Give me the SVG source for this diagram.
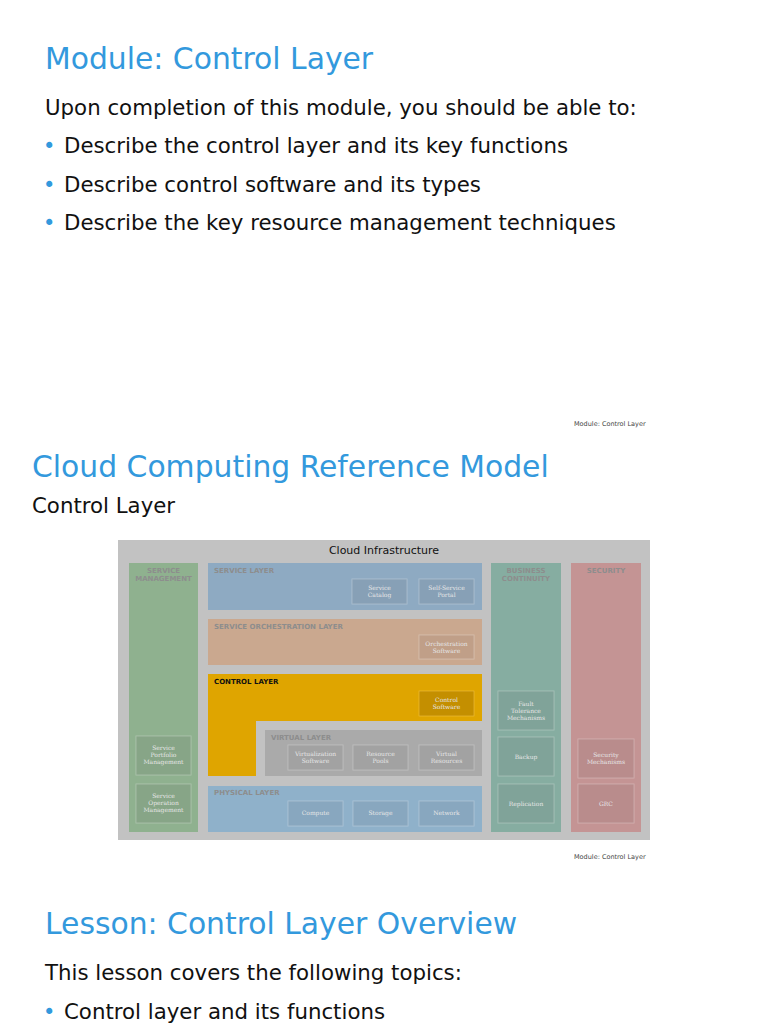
<svg xmlns="http://www.w3.org/2000/svg" width="768" height="1024" viewBox="0 0 768 1024">
<style>
text{font-family:"DejaVu Sans","Liberation Sans",sans-serif}
.h{fill:#3399dd;font-size:29.8px}
.b{fill:#111;font-size:21.3px}
.dot{fill:#3399dd;font-size:21px}
.foot{fill:#444;font-size:6.5px}
.lab{fill:#8d8d8d;font-size:7px;font-weight:bold}
.bx{stroke:#ffffff;stroke-opacity:0.25;stroke-width:1}
.bt{fill:#e6e6e6;font-size:6px;font-family:"DejaVu Serif",serif;text-anchor:middle}
</style>
<rect width="768" height="1024" fill="#ffffff"/>
<g id="slide1">
<text class="h" x="45" y="69">Module: Control Layer</text>
<text class="b" x="45" y="115">Upon completion of this module, you should be able to:</text>
<text class="dot" x="43" y="153">•</text><text class="b" x="64" y="153">Describe the control layer and its key functions</text>
<text class="dot" x="43" y="192">•</text><text class="b" x="64" y="192">Describe control software and its types</text>
<text class="dot" x="43" y="230">•</text><text class="b" x="64" y="230">Describe the key resource management techniques</text>
<text class="foot" x="574" y="426">Module: Control Layer</text>
</g>
<g id="slide2">
<text class="h" x="32" y="477">Cloud Computing Reference Model</text>
<text class="b" x="32" y="513">Control Layer</text>
<rect x="118" y="540" width="532" height="300" fill="#c2c2c2"/>
<text x="384" y="554" font-size="11" fill="#111" text-anchor="middle">Cloud  Infrastructure</text>
<g id="service-management"><rect x="129" y="563" width="69" height="269" fill="#8fb18f"/>
<text class="lab" x="163.5" y="573" text-anchor="middle">SERVICE</text><text class="lab" x="163.5" y="581" text-anchor="middle">MANAGEMENT</text>
<rect class="bx" x="136" y="736" width="55" height="39" fill="#87a587"/><text class="bt" x="163.5" y="750">Service</text><text class="bt" x="163.5" y="757">Portfolio</text><text class="bt" x="163.5" y="764">Management</text>
<rect class="bx" x="136" y="784" width="55" height="39" fill="#87a587"/><text class="bt" x="163.5" y="798">Service</text><text class="bt" x="163.5" y="805">Operation</text><text class="bt" x="163.5" y="812">Management</text></g>
<g id="service-layer"><rect x="208" y="563" width="274" height="47" fill="#8eaac2"/>
<text class="lab" x="214" y="573">SERVICE LAYER</text>
<rect class="bx" x="352" y="579" width="55" height="25" fill="#87a0b6"/><text class="bt" x="379.5" y="590">Service</text><text class="bt" x="379.5" y="597">Catalog</text>
<rect class="bx" x="419" y="579" width="55" height="25" fill="#87a0b6"/><text class="bt" x="446.5" y="590">Self-Service</text><text class="bt" x="446.5" y="597">Portal</text></g>
<g id="orchestration-layer"><rect x="208" y="619" width="274" height="46" fill="#caa88f"/>
<text class="lab" x="214" y="629">SERVICE ORCHESTRATION LAYER</text>
<rect class="bx" x="419" y="635" width="55" height="24" fill="#c09f88"/><text class="bt" x="446.5" y="646">Orchestration</text><text class="bt" x="446.5" y="653">Software</text></g>
<g id="control-layer"><path d="M208 674H482V721H256V776H208Z" fill="#dfa500"/>
<text x="214" y="684" font-size="7" font-weight="bold" fill="#111">CONTROL LAYER</text>
<rect x="419" y="691" width="55" height="25" fill="#c48f00" stroke="#f0c040" stroke-width="0.6"/><text class="bt" x="446.5" y="702" fill="#fff">Control</text><text class="bt" x="446.5" y="709" fill="#fff">Software</text></g>
<g id="virtual-layer"><rect x="265" y="730" width="217" height="46" fill="#aaaaaa"/>
<text class="lab" x="271" y="740" fill="#909090">VIRTUAL LAYER</text>
<rect class="bx" x="288" y="745" width="55" height="25" fill="#a2a2a2"/><text class="bt" x="315.5" y="756">Virtualization</text><text class="bt" x="315.5" y="763">Software</text>
<rect class="bx" x="353" y="745" width="55" height="25" fill="#a2a2a2"/><text class="bt" x="380.5" y="756">Resource</text><text class="bt" x="380.5" y="763">Pools</text>
<rect class="bx" x="419" y="745" width="55" height="25" fill="#a2a2a2"/><text class="bt" x="446.5" y="756">Virtual</text><text class="bt" x="446.5" y="763">Resources</text></g>
<g id="physical-layer"><rect x="208" y="786" width="274" height="46" fill="#8fb1ca"/>
<text class="lab" x="214" y="795">PHYSICAL LAYER</text>
<rect class="bx" x="288" y="801" width="55" height="25" fill="#88a7bf"/><text class="bt" x="315.5" y="815">Compute</text>
<rect class="bx" x="353" y="801" width="55" height="25" fill="#88a7bf"/><text class="bt" x="380.5" y="815">Storage</text>
<rect class="bx" x="419" y="801" width="55" height="25" fill="#88a7bf"/><text class="bt" x="446.5" y="815">Network</text></g>
<g id="business-continuity"><rect x="491" y="563" width="70" height="269" fill="#86ada1"/>
<text class="lab" x="526" y="573" text-anchor="middle">BUSINESS</text><text class="lab" x="526" y="581" text-anchor="middle">CONTINUITY</text>
<rect class="bx" x="498" y="691" width="56" height="39" fill="#80a399"/><text class="bt" x="526" y="706">Fault</text><text class="bt" x="526" y="713">Tolerance</text><text class="bt" x="526" y="720">Mechanisms</text>
<rect class="bx" x="498" y="737" width="56" height="39" fill="#80a399"/><text class="bt" x="526" y="759">Backup</text>
<rect class="bx" x="498" y="784" width="56" height="39" fill="#80a399"/><text class="bt" x="526" y="806">Replication</text></g>
<g id="security"><rect x="571" y="563" width="70" height="269" fill="#c49494"/>
<text class="lab" x="606" y="573" text-anchor="middle">SECURITY</text>
<rect class="bx" x="578" y="739" width="56" height="39" fill="#b98c8c"/><text class="bt" x="606" y="757">Security</text><text class="bt" x="606" y="764">Mechanisms</text>
<rect class="bx" x="578" y="784" width="56" height="39" fill="#b98c8c"/><text class="bt" x="606" y="806">GRC</text></g>
<g id="connectors"/>
<text class="foot" x="574" y="859">Module: Control Layer</text>
</g>
<g id="slide3">
<text class="h" x="45" y="934">Lesson: Control Layer Overview</text>
<text class="b" x="45" y="980">This lesson covers the following topics:</text>
<text class="dot" x="43" y="1019">•</text><text class="b" x="64" y="1019">Control layer and its functions</text>
</g>
</svg>
